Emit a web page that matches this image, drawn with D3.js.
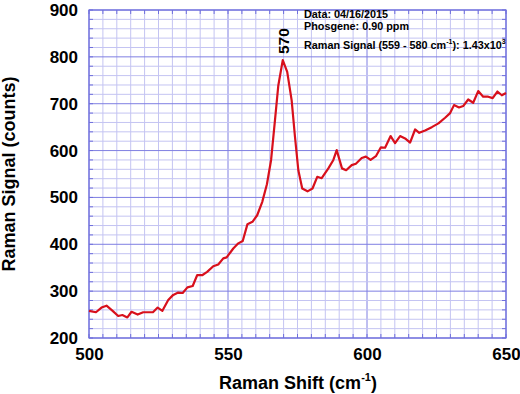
<!DOCTYPE html>
<html>
<head>
<meta charset="utf-8">
<script src="https://cdn.jsdelivr.net/npm/d3@7"></script>
<style>
  body { margin: 0; background: #fff; }
  text { font-family: Arial, "Liberation Sans", Helvetica, sans-serif; font-weight: bold; }
</style>
</head>
<body>
<div class="container"></div>
<script>
// Frame size
const width = 520;
const height = 394;
const margin = { top: 10, right: 14, bottom: 56, left: 89 };

// Spectrum
const shift = [
  500, 502.5, 504.5, 506.3, 508.5, 510.5, 512, 513.8, 515.3, 517.5, 519.5, 523, 524.7, 526.4,
  528.5, 530.3, 532.1, 533.7, 535.4, 537.3, 538.9, 540.7, 542.5, 544.7, 546.5, 548.3, 549.5,
  551.9, 553.7, 555.3, 557, 558.8, 560.5, 562.3, 564, 565.5, 566.9, 568.1, 569.7, 571.3,
  572.9, 574.1, 575.3, 576.7, 578.6, 580.4, 582.1, 583.7, 586.1, 587.9, 589.1, 591, 592.5,
  594.5, 596, 598.1, 599.6, 601.3, 603.2, 605, 606.5, 608.5, 610.1, 611.9, 613.7, 615.5,
  617.3, 618.8, 620.9, 623.3, 625.7, 628.1, 629.9, 631.3, 633.1, 634.6, 636.4, 638.2, 640,
  641.8, 643.6, 645.2, 646.9, 648.5, 650
];
const signal = [
  258, 255, 265, 269, 258, 247, 249, 244, 256, 250, 255, 255, 265, 258,
  281, 292, 297, 296, 308, 311, 334, 334, 341, 353, 357, 370, 372,
  391, 402, 407, 443, 448, 462, 490, 528, 580, 665, 739, 793, 768,
  707, 629, 558, 519, 513, 519, 544, 541, 562, 580, 601, 562, 558,
  569, 572, 584, 587, 580, 588, 607, 606, 631, 616, 631, 626, 617,
  645, 638, 643, 650, 658, 670, 680, 697, 692, 695, 709, 702, 727,
  715, 715, 712, 726, 718, 723
];

const xTicks = [500, 550, 600, 650];
const yTicks = [200, 300, 400, 500, 600, 700, 800, 900];
const peakLabel = '570';
const notes = ['Data: 04/16/2015', 'Phosgene: 0.90 ppm'];

// Colours
const minorColor = '#c4c4f2';
const majorColor = '#7f7fe2';
const frameColor = '#6f6fdc';
const lineColor = '#d8101c';

const svg = d3.select('.container')
  .append('svg')
  .attr('width', width)
  .attr('height', height);

const x = d3.scaleLinear().domain([500, 650]).range([margin.left, width - margin.right]);
const y = d3.scaleLinear().domain([200, 900]).range([height - margin.bottom, margin.top]);

// Grid
const grid = svg.append('g');
grid.selectAll('.vx')
  .data(d3.range(500, 651, 5))
  .enter()
  .append('line')
  .attr('x1', d => x(d)).attr('x2', d => x(d))
  .attr('y1', y(200)).attr('y2', y(900))
  .attr('stroke', d => d % 50 === 0 ? majorColor : minorColor)
  .attr('stroke-width', 1);
grid.selectAll('.hy')
  .data(d3.range(200, 901, 20))
  .enter()
  .append('line')
  .attr('y1', d => y(d)).attr('y2', d => y(d))
  .attr('x1', x(500)).attr('x2', x(650))
  .attr('stroke', d => d % 100 === 0 ? majorColor : minorColor)
  .attr('stroke-width', 1);

// Small inward ticks on all sides
const tickLen = 4;
const ticks = svg.append('g').attr('stroke', frameColor).attr('stroke-width', 1);
d3.range(500, 651, 5).forEach(d => {
  ticks.append('line').attr('x1', x(d)).attr('x2', x(d)).attr('y1', y(200)).attr('y2', y(200) - tickLen);
  ticks.append('line').attr('x1', x(d)).attr('x2', x(d)).attr('y1', y(900)).attr('y2', y(900) + tickLen);
});
d3.range(200, 901, 20).forEach(d => {
  ticks.append('line').attr('y1', y(d)).attr('y2', y(d)).attr('x1', x(500)).attr('x2', x(500) + tickLen);
  ticks.append('line').attr('y1', y(d)).attr('y2', y(d)).attr('x1', x(650)).attr('x2', x(650) - tickLen);
});

// Frame
svg.append('rect')
  .attr('x', x(500)).attr('y', y(900))
  .attr('width', x(650) - x(500)).attr('height', y(200) - y(900))
  .attr('fill', 'none')
  .attr('stroke', frameColor)
  .attr('stroke-width', 1.2);

// Axes labels (numbers)
const xAxis = svg.append('g')
  .attr('transform', `translate(0,${y(200)})`)
  .call(d3.axisBottom(x).tickValues(xTicks).tickSize(0).tickPadding(10));
xAxis.select('.domain').remove();
xAxis.selectAll('text').attr('font-size', 17).attr('fill', '#000')
  .style('font-family', 'Arial, "Liberation Sans", sans-serif').style('font-weight', 'bold');

const yAxis = svg.append('g')
  .attr('transform', `translate(${x(500)},0)`)
  .call(d3.axisLeft(y).tickValues(yTicks).tickSize(0).tickPadding(11));
yAxis.select('.domain').remove();
yAxis.selectAll('text').attr('font-size', 17).attr('fill', '#000')
  .style('font-family', 'Arial, "Liberation Sans", sans-serif').style('font-weight', 'bold');

// Spectrum line
const line = d3.line()
  .x((d, i) => x(shift[i]))
  .y(d => y(d));
svg.append('path')
  .datum(signal)
  .attr('d', line)
  .attr('fill', 'none')
  .attr('stroke', lineColor)
  .attr('stroke-width', 2.2)
  .attr('stroke-linejoin', 'round');

// Peak label
const peakIdx = signal.indexOf(d3.max(signal));
svg.append('text')
  .attr('transform', `translate(${x(shift[peakIdx]) + 6},${y(signal[peakIdx]) - 19}) rotate(-90)`)
  .attr('text-anchor', 'middle')
  .attr('font-size', 15.5)
  .text(peakLabel);

// Notes
const notesG = svg.append('g').attr('font-size', 10.8).attr('fill', '#000');
notes.forEach((t, i) => {
  notesG.append('text').attr('x', 304).attr('y', 18 + i * 11.5).text(t);
});
const sig = notesG.append('text').attr('x', 304).attr('y', 49);
sig.append('tspan').text('Raman Signal (559 - 580 cm');
sig.append('tspan').attr('font-size', 7).attr('dy', -5).text('-1');
sig.append('tspan').attr('dy', 5).text('): 1.43x10');
sig.append('tspan').attr('font-size', 7).attr('dy', -5).text('3');

// Axis titles
const xt = svg.append('text')
  .attr('x', 298).attr('y', 389)
  .attr('text-anchor', 'middle')
  .attr('font-size', 18);
xt.append('tspan').text('Raman Shift (cm');
xt.append('tspan').attr('font-size', 11).attr('dy', -8).text('-1');
xt.append('tspan').attr('dy', 8).text(')');

svg.append('text')
  .attr('transform', `translate(15,${(y(200) + y(900)) / 2}) rotate(-90)`)
  .attr('text-anchor', 'middle')
  .attr('font-size', 18)
  .text('Raman Signal (counts)');
</script>
</body>
</html>
